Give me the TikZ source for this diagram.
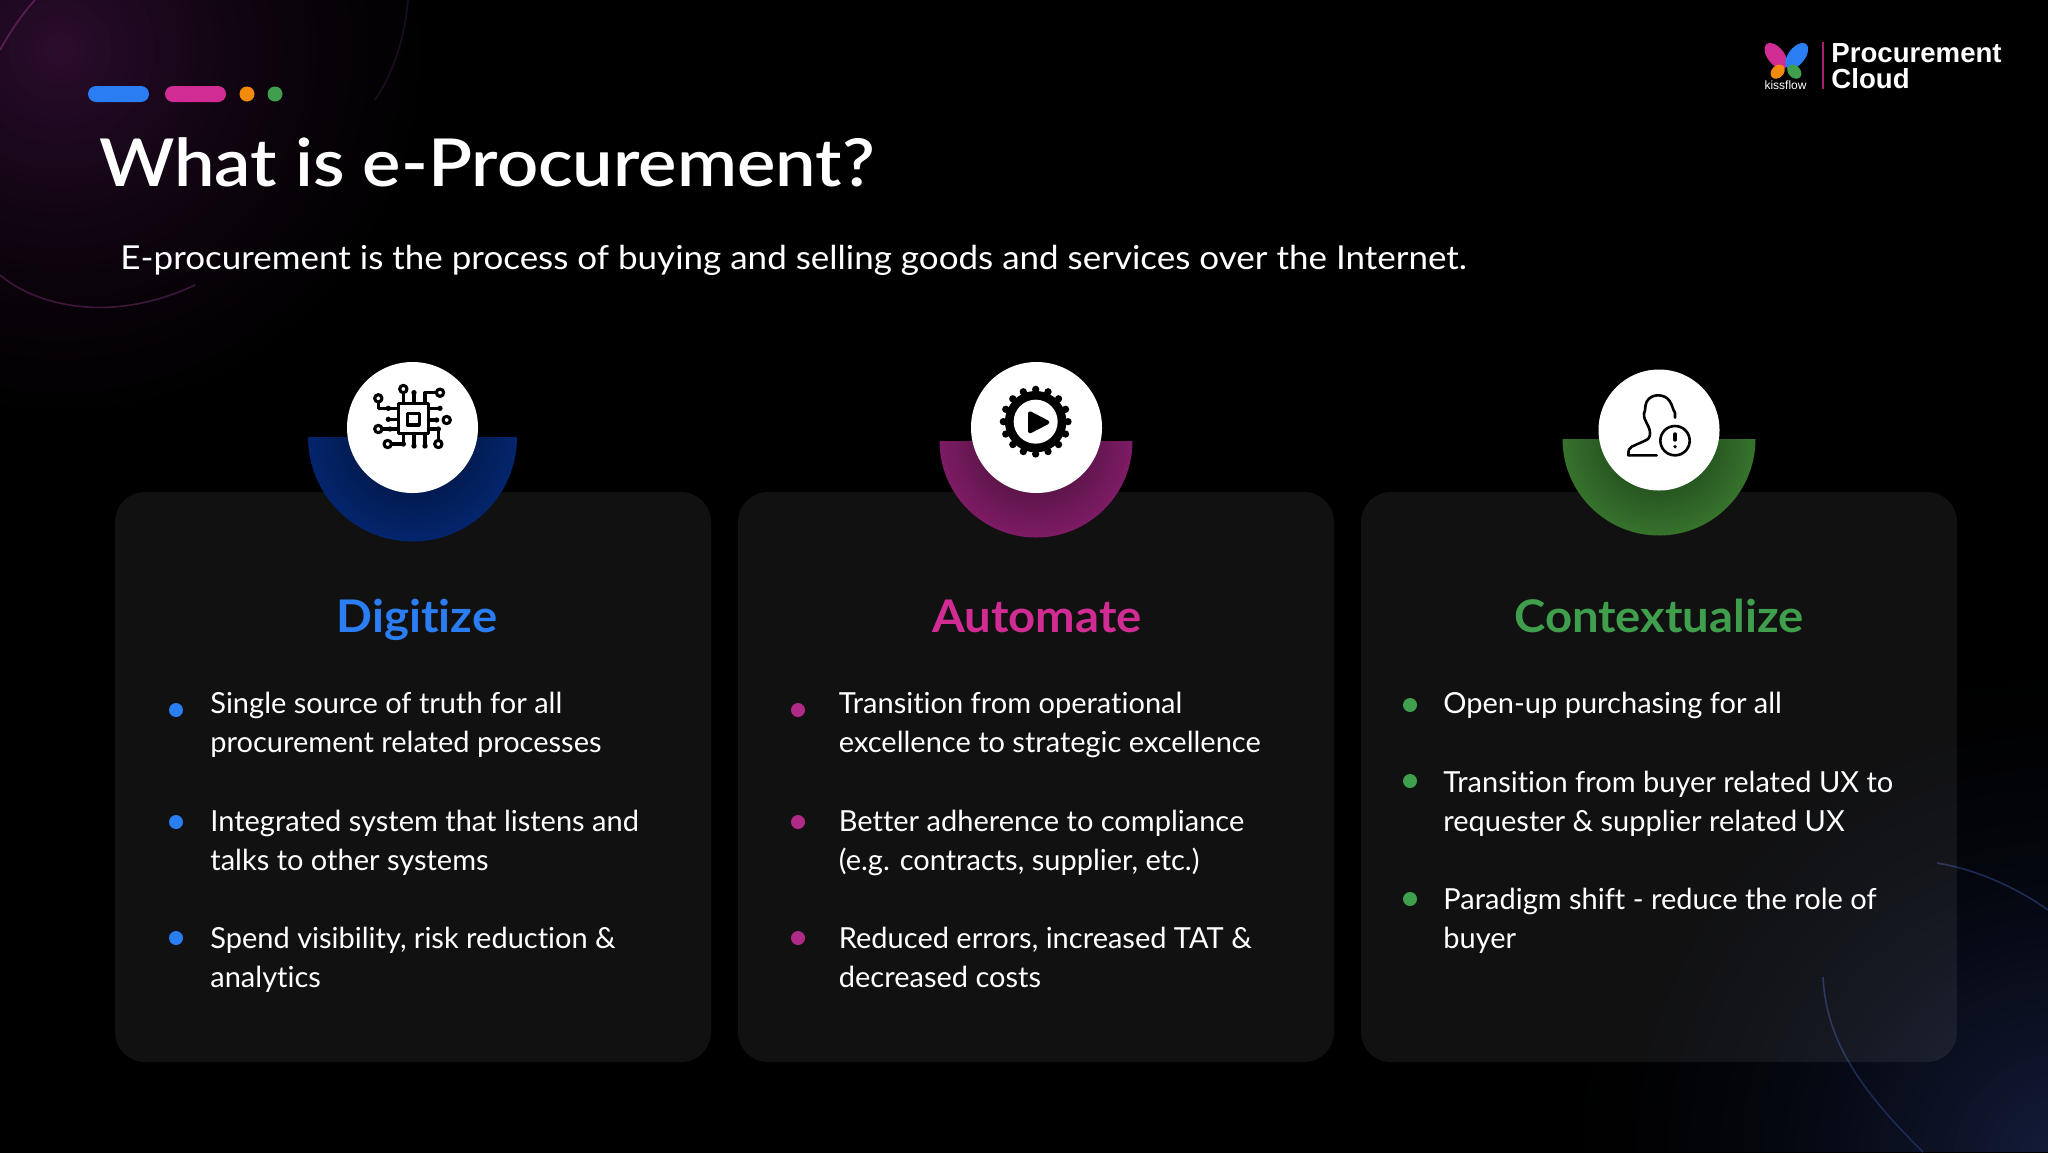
\documentclass[tikz,border=0pt]{standalone}
\usepackage{fontspec}
\setmainfont{Lato}[RawFeature={-liga}]
\newfontfamily\titlefont{Lato Semibold}[RawFeature={-liga},FakeStretch=1.095]
\newfontfamily\headfont{Lato}[RawFeature={-liga},FakeStretch=1.05]
\newfontfamily\subfont{Lato}[RawFeature={-liga},FakeStretch=1.06]
\newfontfamily\logofont{Liberation Sans}
\usetikzlibrary{calc}
\definecolor{cblue}{HTML}{2A7DF2}
\definecolor{cpink}{HTML}{D02C93}
\definecolor{cbul}{HTML}{B02A88}
\definecolor{cgreen}{HTML}{3F9F4C}
\definecolor{corange}{HTML}{F28A0C}
\definecolor{glowp}{HTML}{2C0C2E}
\definecolor{glowb}{HTML}{141D3C}
\definecolor{arcp}{HTML}{5C1F55}
\definecolor{arcq}{HTML}{40163C}
\definecolor{arcr}{HTML}{1C0D20}
\definecolor{arcb}{HTML}{1D2A55}
\definecolor{logol}{HTML}{A5226F}
\definecolor{bde}{HTML}{03256C}\definecolor{bdi}{HTML}{021A4E}
\definecolor{mde}{HTML}{7D1B65}\definecolor{mdi}{HTML}{5A1547}
\definecolor{gde}{HTML}{37722D}\definecolor{gdi}{HTML}{24541E}
\newcommand{\glowat}[4]{% cx, cy, R, colour
  \foreach \i in {0,...,48}{
    \pgfmathsetmacro{\rr}{#3*(1-\i/49)}
    \pgfmathsetmacro{\pp}{100*(\i/49)^1.7}
    \fill[#4!\pp!black] (#1,#2) circle[radius=\rr];
  }}
\newcommand{\halfdisc}[5]{% cx, topy, r, edge, inner
  \begin{scope}
    \clip (#1-#3,#2) rectangle (#1+#3,#2+#3+2);
    \foreach \i in {0,...,24}{
      \pgfmathsetmacro{\rr}{#3*(1-.5*\i/24)}
      \pgfmathsetmacro{\pp}{100*(1-\i/24)}
      \fill[#4!\pp!#5] (#1,#2) circle[radius=\rr];
    }
  \end{scope}}
\tikzset{
  x=0.5pt,y=-0.5pt,
  card/.style={fill=white,fill opacity=.068,rounded corners=15pt},
  badge/.style={fill=white},
  pill/.style={rounded corners=4pt},
  body/.style={anchor=base west,text=white,inner sep=0pt,font=\fontsize{14.5}{14.5}\selectfont},
  head/.style={anchor=base,inner sep=0pt,font=\headfont\bfseries\fontsize{22.5}{22.5}\selectfont},
  ic/.style={line width=1.55pt,draw=black,fill=none,line cap=round,line join=round},
  icthin/.style={line width=1.3pt,draw=black,fill=none,line cap=round,line join=round},
  thinarc/.style={line width=.8pt,fill=none},
}
\begin{document}
\begin{tikzpicture}
\useasboundingbox (0,0) rectangle (2048,1152);
\fill[black] (-6,-6) rectangle (2054,1158);
\glowat{60}{50}{420}{glowp}
\glowat{2060}{1160}{520}{glowb}
\fill[black] (-6,1152) rectangle (2054,1158);
% thin background arcs
\draw[thinarc,draw=arcp] (35,0) .. controls (22,14) and (10,32) .. (0,50);
\draw[thinarc,draw=arcq] (0,275) .. controls (35,305) and (110,325) .. (195,285);
\draw[thinarc,draw=arcr] (408,0) .. controls (405,35) and (395,70) .. (375,100);
\draw[thinarc,draw=arcb] (1937,863) .. controls (1980,870) and (2020,890) .. (2048,910);
\draw[thinarc,draw=arcb] (1823,977) .. controls (1826,1040) and (1860,1090) .. (1923,1152);
% cards
\fill[card] (115,492) rectangle (711,1062);
\fill[card] (738,492) rectangle (1334,1062);
\fill[card] (1361,492) rectangle (1957,1062);
% header pills
\fill[cblue,pill] (88,86) rectangle (149,102);
\fill[cpink,pill] (165,86) rectangle (226,102);
\fill[corange] (247,94) circle[radius=7.5];
\fill[cgreen] (275,94) circle[radius=7.5];
% title
\node[anchor=base west,inner sep=0pt,text=white,font=\titlefont\fontsize{33}{33}\selectfont] (title) at (99,186) {What is e-Procurement?};
\node[anchor=base west,inner sep=0pt,text=white,font=\subfont\fontsize{16.5}{16.5}\selectfont] (subtitle) at (120,269) {E-procurement is the process of buying and selling goods and services over the Internet.};
% logo
\begin{scope}[shift={(1740,20)},scale=1/3]
  \fill[cpink,rotate around={-52:(108,108)}] (108,108) ellipse[x radius=46,y radius=25];
  \fill[cblue,rotate around={52:(170,108)}] (170,108) ellipse[x radius=46,y radius=25];
  \fill[corange,rotate around={45:(113,155)}] (113,155) ellipse[x radius=24,y radius=18];
  \fill[cgreen,rotate around={-45:(163,155)}] (163,155) ellipse[x radius=24,y radius=18];
  \fill[logol] (247,65) rectangle (251,207);
\end{scope}
\node[anchor=base,inner sep=0pt,text=white,font=\logofont\fontsize{6}{6}\selectfont] (kiss) at (1785.5,89) {kissflow};
\node[anchor=base west,inner sep=0pt,text=white,font=\logofont\bfseries\fontsize{13.8}{13.8}\selectfont] (pc1) at (1831,62) {Procurement};
\node[anchor=base west,inner sep=0pt,text=white,font=\logofont\bfseries\fontsize{13.8}{13.8}\selectfont] (pc2) at (1831,88) {Cloud};
% half discs and badges
\halfdisc{412.5}{437}{104.5}{bde}{bdi}
\halfdisc{1036}{441}{96.5}{mde}{mdi}
\halfdisc{1659}{439}{96.5}{gde}{gdi}
\fill[badge] (412.5,427.5) circle[radius=65.5];
\fill[badge] (1036.5,427.5) circle[radius=65.5];
\fill[badge] (1659,430) circle[radius=60.5];
% icon 1: chip
\begin{scope}[shift={(290,340)},scale=1/3]
  \draw[ic] (325,190) rectangle (415,280);
  \draw[ic] (352,220) rectangle (388,255);
  \draw[ic] (340,190) -- (340,160); \draw[ic] (340,147) circle[radius=11];
  \draw[ic] (372,190) -- (372,158);
  \draw[ic] (405,190) -- (405,158) -- (438,158); \draw[ic] (450,158) circle[radius=11];
  \draw[ic] (265,187) -- (265,205) -- (325,205); \draw[ic] (265,175) circle[radius=11];
  \draw[ic] (295,238) -- (325,238);
  \draw[ic] (277,267) -- (325,267); \draw[ic] (265,267) circle[radius=11];
  \draw[ic] (305,312) -- (340,312) -- (340,280); \draw[ic] (293,312) circle[radius=11];
  \draw[ic] (372,280) -- (372,318);
  \draw[ic] (405,280) -- (405,318);
  \draw[ic] (415,267) -- (445,267) -- (445,300); \draw[ic] (445,312) circle[radius=11];
  \draw[ic] (415,205) -- (450,205);
  \draw[ic] (415,240) -- (440,240); \draw[ic] (470,240) circle[radius=11];
  \foreach \p in {(295,205),(295,238),(300,267),(372,158),(372,318),(405,318),(340,312),(450,205),(440,240),(445,267)}
    \fill[black] \p circle[radius=8];
\end{scope}
% icon 2: gear
\begin{scope}[shift={(920,340)},scale=1/3]
  \foreach \a in {0,22.5,...,337.5}
    \fill[black] ($(347,245)+(\a:97)$) circle[radius=11];
  \fill[black] (347,245) circle[radius=92];
  \fill[white] (347,245) circle[radius=66];
  \fill[black,draw=black,line width=2pt,line join=round] (330,220) -- (382,247) -- (330,274) -- cycle;
\end{scope}
% icon 3: user
\begin{scope}[shift={(1540,350)},scale=1/3]
  \draw[icthin] (405,203) -- (405,188) .. controls (398,180) and (398,165) .. (388,152)
     .. controls (375,132) and (335,128) .. (320,155) .. controls (313,170) and (318,180) .. (312,190)
     .. controls (310,215) and (330,225) .. (330,250) .. controls (330,262) and (325,268) .. (315,272)
     -- (275,290) .. controls (267,294) and (265,300) .. (265,316) -- (350,316);
  \draw[icthin] (405,272) circle[radius=44];
  \draw[icthin,line width=1.7pt] (405,252) -- (405,270);
  \fill[black] (405,290) circle[radius=5.5];
\end{scope}
% headings
\node[head,text=cblue] (h1) at (417,632) {Digitize};
\node[head,text=cpink] (h2) at (1037,632) {Automate};
\node[head,text=cgreen] (h3) at (1659,632) {Contextualize};
% bullets col 1
\fill[cblue] (176,710) circle[radius=7];
\fill[cblue] (176,822) circle[radius=7];
\fill[cblue] (176,938) circle[radius=7];
\node[body] (a1) at (210,713) {Single source of truth for all};
\node[body] (a2) at (210,752) {procurement related processes};
\node[body] (a3) at (210,831) {Integrated system that listens and};
\node[body] (a4) at (210,870) {talks to other systems};
\node[body] (a5) at (210,948) {Spend visibility, risk reduction \&};
\node[body] (a6) at (210,987) {analytics};
% col 2
\fill[cbul] (798,710) circle[radius=7];
\fill[cbul] (798,822) circle[radius=7];
\fill[cbul] (798,938) circle[radius=7];
\node[body] (b1) at (838.5,713) {Transition from operational};
\node[body] (b2) at (838.5,752) {excellence to strategic excellence};
\node[body] (b3) at (838.5,831) {Better adherence to compliance};
\node[body] (b4) at (838.5,870) {(e.g. contracts, supplier, etc.)};
\node[body] (b5) at (838.5,948) {Reduced errors, increased TAT \&};
\node[body] (b6) at (838.5,987) {decreased costs};
% col 3
\fill[cgreen] (1410,705) circle[radius=7];
\fill[cgreen] (1410,781) circle[radius=7];
\fill[cgreen] (1410,899) circle[radius=7];
\node[body] (c1) at (1443,713) {Open-up purchasing for all};
\node[body] (c2) at (1443,792) {Transition from buyer related UX to};
\node[body] (c3) at (1443,831) {requester \& supplier related UX};
\node[body] (c4) at (1443,909) {Paradigm shift - reduce the role of};
\node[body] (c5) at (1443,948) {buyer};
\end{tikzpicture}
\end{document}
